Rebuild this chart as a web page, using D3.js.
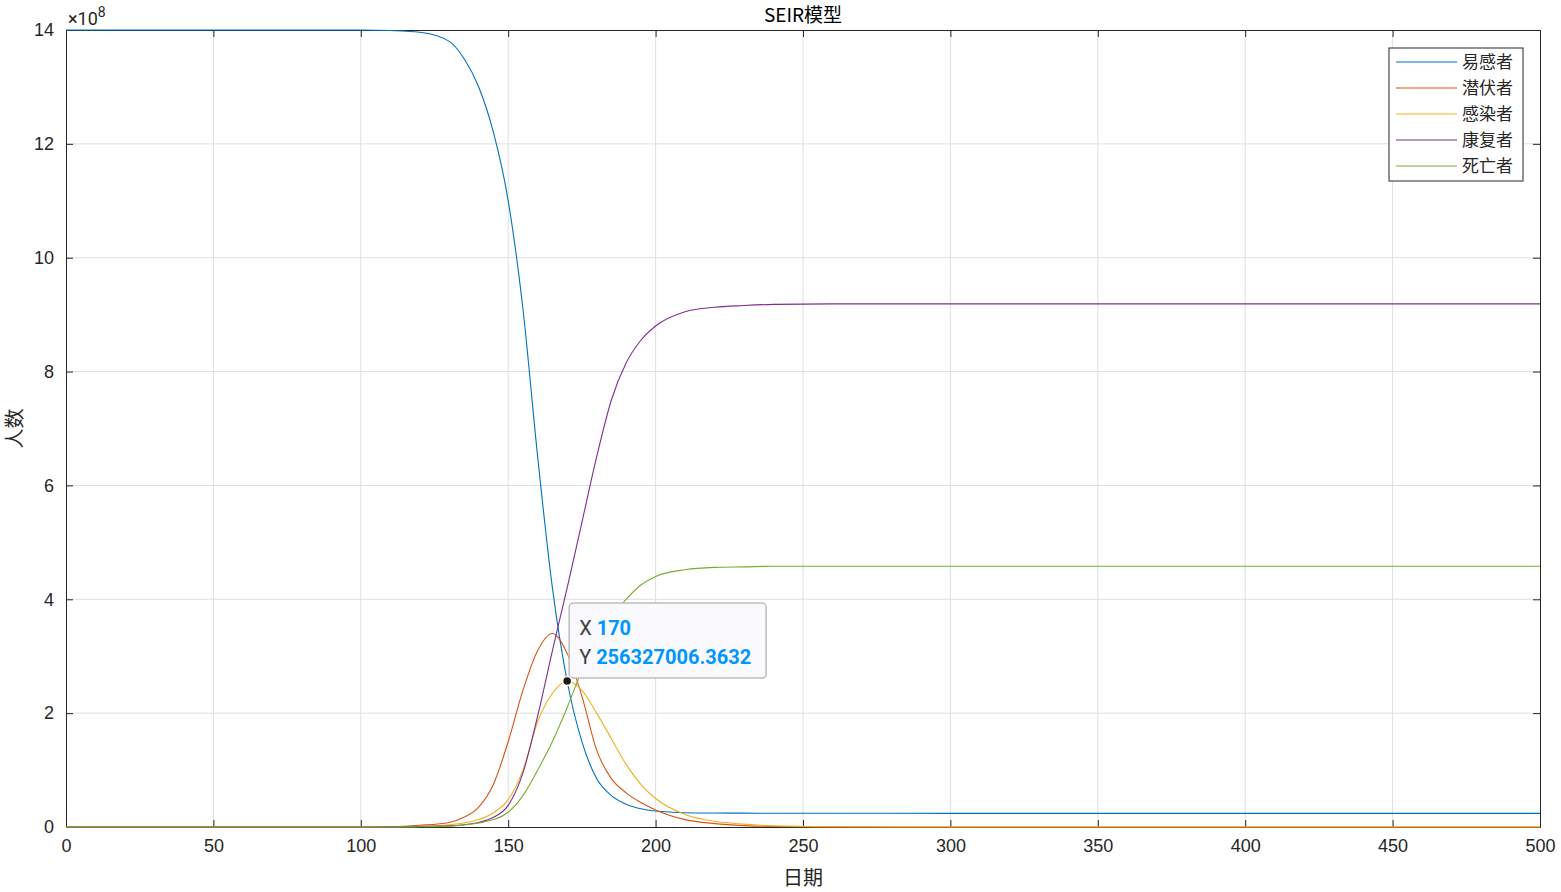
<!DOCTYPE html>
<html><head><meta charset="utf-8">
<script src="https://cdn.jsdelivr.net/npm/d3@7"></script>
<style>body{margin:0;background:#fff}svg{display:block}</style>
</head><body><svg id="chart"></svg>
<script>
const days = [0,100,110,120,130,135,140,145,150,155,160,165,170,175,180,185,190,195,200,210,220,230,240,260,300,500];
// values in units of 1e8
const susceptible = [14,14,13.99,13.96,13.8,13.5,13.0,12.2,11.0,9.1,6.5,4.2,2.56,1.5,0.85,0.55,0.4,0.32,0.28,0.25,0.245,0.243,0.242,0.241,0.24,0.24];
const exposed = [0,0,0.005,0.03,0.08,0.17,0.35,0.75,1.5,2.4,3.1,3.4,3.05,2.3,1.35,0.85,0.6,0.43,0.3,0.13,0.06,0.025,0.01,0.002,0,0];
const infected = [0,0,0.002,0.01,0.04,0.07,0.13,0.25,0.48,1.0,1.85,2.35,2.56,2.4,2.0,1.55,1.1,0.75,0.5,0.22,0.1,0.05,0.02,0.005,0,0];
const recovered = [0,0,0.002,0.01,0.02,0.04,0.08,0.17,0.38,0.95,1.95,3.1,4.2,5.35,6.5,7.5,8.15,8.55,8.8,9.05,9.13,9.16,9.18,9.19,9.19,9.19];
const dead = [0,0,0.001,0.005,0.015,0.035,0.07,0.13,0.26,0.55,1.0,1.5,2.1,2.75,3.3,3.7,4.0,4.25,4.4,4.52,4.56,4.57,4.58,4.58,4.58,4.58];
const seriesNames = ["易感者","潜伏者","感染者","康复者","死亡者"];
const seriesColors = ["#0072BD","#D95319","#EDB120","#7E2F8E","#77AC30"];
const xTicks = [0,50,100,150,200,250,300,350,400,450,500];
const yTicks = [0,2,4,6,8,10,12,14];
const tip = {x: 170, y: 256327006.3632};

const W = 1561, H = 892;
const margin = {top: 30, right: 21, bottom: 65, left: 66};
const svg = d3.select("#chart").attr("width", W).attr("height", H)
  .style("font-family", "Roboto, 'Liberation Sans', sans-serif");
const cjk = "'Noto Sans CJK SC', sans-serif";

const x = d3.scaleLinear().domain([0, 500]).range([margin.left, W - margin.right]);
const y = d3.scaleLinear().domain([0, 14]).range([H - margin.bottom, margin.top]);

// grid
svg.append("g").selectAll("line").data(xTicks.slice(1, -1)).join("line")
  .attr("x1", d => x(d)).attr("x2", d => x(d)).attr("y1", y(0)).attr("y2", y(14))
  .attr("stroke", "#dfdfdf");
svg.append("g").selectAll("line").data(yTicks.slice(1, -1)).join("line")
  .attr("y1", d => y(d)).attr("y2", d => y(d)).attr("x1", x(0)).attr("x2", x(500))
  .attr("stroke", "#dfdfdf");

// axes with inward ticks, all four sides
const axStyle = g => {
  g.selectAll("text").attr("font-size", 18).attr("fill", "#262626");
  g.selectAll("line,path").attr("stroke", "#262626");
};
svg.append("g").attr("transform", `translate(0,${y(0)})`)
  .call(d3.axisBottom(x).tickValues(xTicks).tickSizeInner(-7).tickSizeOuter(0).tickPadding(12))
  .call(axStyle);
svg.append("g").attr("transform", `translate(0,${y(14)})`)
  .call(d3.axisTop(x).tickValues(xTicks).tickSizeInner(-7).tickSizeOuter(0).tickFormat(""))
  .call(axStyle);
svg.append("g").attr("transform", `translate(${x(0)},0)`)
  .call(d3.axisLeft(y).tickValues(yTicks).tickSizeInner(-7).tickSizeOuter(0).tickPadding(12))
  .call(axStyle);
svg.append("g").attr("transform", `translate(${x(500)},0)`)
  .call(d3.axisRight(y).tickValues(yTicks).tickSizeInner(-7).tickSizeOuter(0).tickFormat(""))
  .call(axStyle);

// exponent label
const ex = svg.append("text").attr("x", x(0) + 2).attr("y", 25).attr("fill", "#262626").attr("font-size", 18);
ex.append("tspan").text("×10");
ex.append("tspan").text("8").attr("dy", -8).attr("font-size", 14);

// titles
svg.append("text").attr("x", (x(0) + x(500)) / 2).attr("y", 22).attr("text-anchor", "middle")
  .attr("font-size", 19).attr("fill", "#000").style("font-family", cjk).text("SEIR模型");
svg.append("text").attr("x", (x(0) + x(500)) / 2).attr("y", 885).attr("text-anchor", "middle")
  .attr("font-size", 20).attr("fill", "#262626").style("font-family", cjk).text("日期");
svg.append("text").attr("transform", `translate(22,${(y(0) + y(14)) / 2}) rotate(-90)`)
  .attr("text-anchor", "middle").attr("font-size", 20).attr("fill", "#262626")
  .style("font-family", cjk).text("人数");

// lines
const allSeries = [susceptible, exposed, infected, recovered, dead];
const line = d3.line().x((d, i) => x(days[i])).y(d => y(d)).curve(d3.curveMonotoneX);
svg.append("g").selectAll("path").data(allSeries).join("path")
  .attr("d", line).attr("fill", "none")
  .attr("stroke", (d, i) => seriesColors[i]).attr("stroke-width", 1.1);

// legend
const lg = svg.append("g").attr("transform", "translate(1389,48)");
lg.append("rect").attr("width", 134).attr("height", 133).attr("fill", "#fff").attr("stroke", "#262626");
seriesNames.forEach((n, i) => {
  const yy = 14 + i * 26;
  lg.append("line").attr("x1", 7).attr("x2", 68).attr("y1", yy).attr("y2", yy)
    .attr("stroke", seriesColors[i]).attr("stroke-width", 1.1);
  lg.append("text").attr("x", 73).attr("y", yy + 6).attr("font-size", 17)
    .attr("fill", "#262626").style("font-family", cjk).text(n);
});

// data tip
const tx = x(tip.x), ty = y(tip.y / 1e8);
const tg = svg.append("g");
tg.append("rect").attr("x", tx + 2).attr("y", ty - 78).attr("width", 197).attr("height", 75)
  .attr("rx", 4).attr("fill", "#f9f9fe").attr("stroke", "#bdbdbd").attr("stroke-width", 1.5);
const tl = (label, val, dy) => {
  const t = tg.append("text").attr("x", tx + 12).attr("y", ty - 78 + dy).attr("font-size", 20);
  t.append("tspan").text(label + " ").attr("fill", "#404040");
  t.append("tspan").text(val).attr("fill", "#0096FF").attr("font-weight", "bold");
};
tl("X", tip.x, 32);
tl("Y", tip.y.toFixed(4), 61);
tg.append("circle").attr("cx", tx).attr("cy", ty).attr("r", 4.5)
  .attr("fill", "#1a1a1a").attr("stroke", "#fffbe0").attr("stroke-width", 1.5);
</script></body></html>
